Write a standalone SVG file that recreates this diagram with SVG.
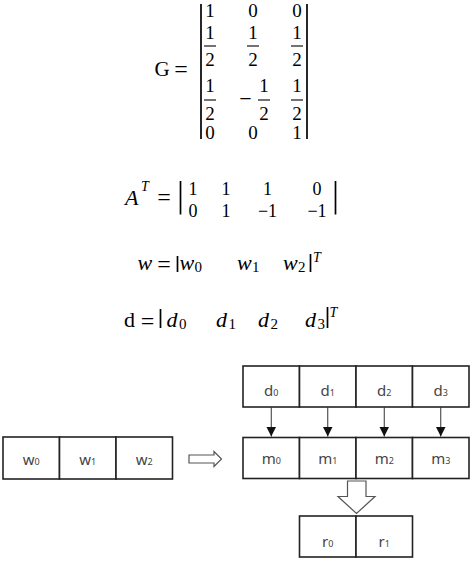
<svg xmlns="http://www.w3.org/2000/svg" width="474" height="561" viewBox="0 0 474 561">
<defs>
<style>
.m{font-family:"Liberation Serif","Times New Roman",serif;fill:#000;}
.d{font-size:19px;text-anchor:middle;}
.i{font-style:italic;}
.eq{font-size:24px;text-anchor:middle;}
.bar{stroke:#000;stroke-width:1.7;fill:none;}
.fb{stroke:#000;stroke-width:1.1;}
.cell{fill:#fff;stroke:#222;stroke-width:1.6;}
.lbl{font-family:"Noto Sans","DejaVu Sans",sans-serif;font-size:15px;fill:#444;text-anchor:middle;}
.sub{font-size:9px;}
.hollow{fill:#fff;stroke:#555;stroke-width:1.2;stroke-linejoin:miter;}
.conn{stroke:#333;stroke-width:1;fill:none;}
</style>
<marker id="ah" markerWidth="10" markerHeight="10" refX="10" refY="5" orient="auto" markerUnits="userSpaceOnUse">
<path d="M0,0 L10,5 L0,10 Z" fill="#111"/>
</marker>
</defs>
<rect width="474" height="561" fill="#fff"/>

<g id="eq-G" class="m">
<text x="154.5" y="76" font-size="21">G</text>
<text class="eq" x="181" y="77">=</text>
<line class="bar" x1="201" y1="4" x2="201" y2="139"/>
<line class="bar" x1="307" y1="4" x2="307" y2="139"/>
<text class="d" x="210" y="16.5">1</text>
<text class="d" x="253" y="16.5">0</text>
<text class="d" x="297" y="16.5">0</text>
<text class="d" x="210" y="38.5">1</text>
<text class="d" x="253" y="38.5">1</text>
<text class="d" x="297" y="38.5">1</text>
<line class="fb" x1="204" y1="46" x2="216" y2="46"/>
<line class="fb" x1="247" y1="46" x2="259" y2="46"/>
<line class="fb" x1="291" y1="46" x2="303" y2="46"/>
<text class="d" x="210" y="65.5">2</text>
<text class="d" x="253" y="65.5">2</text>
<text class="d" x="297" y="65.5">2</text>
<text class="d" x="210" y="92">1</text>
<text class="d" x="264" y="92">1</text>
<text class="d" x="297" y="92">1</text>
<text x="245.5" y="106" font-size="22" text-anchor="middle">−</text>
<line class="fb" x1="204" y1="100" x2="216" y2="100"/>
<line class="fb" x1="258" y1="100" x2="270" y2="100"/>
<line class="fb" x1="291" y1="100" x2="303" y2="100"/>
<text class="d" x="210" y="119.5">2</text>
<text class="d" x="264" y="119.5">2</text>
<text class="d" x="297" y="119.5">2</text>
<text class="d" x="210" y="138.5">0</text>
<text class="d" x="253" y="138.5">0</text>
<text class="d" x="297" y="138.5">1</text>
</g>

<g id="eq-AT" class="m">
<text class="i" x="125" y="204.5" font-size="22">A</text>
<text class="i" x="141" y="191" font-size="14">T</text>
<text class="eq" x="164" y="205">=</text>
<line class="bar" x1="180.5" y1="181" x2="180.5" y2="214.5"/>
<line class="bar" x1="335.5" y1="181" x2="335.5" y2="214.5"/>
<g font-size="18" text-anchor="middle">
<text x="193" y="194.5">1</text>
<text x="226" y="194.5">1</text>
<text x="267.5" y="194.5">1</text>
<text x="317" y="194.5">0</text>
<text x="193" y="216.5">0</text>
<text x="226" y="216.5">1</text>
<text x="267.5" y="216.5">−1</text>
<text x="317" y="216.5">−1</text>
</g>
</g>

<g id="eq-w" class="m">
<text class="i" x="137.5" y="270" font-size="22">w</text>
<text class="eq" x="164" y="271.5">=</text>
<line class="bar" x1="177.5" y1="256" x2="177.5" y2="272"/>
<text class="i" x="179.5" y="270" font-size="22">w</text>
<text x="194.5" y="272" font-size="15">0</text>
<text class="i" x="237" y="270" font-size="22">w</text>
<text x="252" y="272" font-size="15">1</text>
<text class="i" x="283" y="270" font-size="22">w</text>
<text x="298" y="272" font-size="15">2</text>
<line class="bar" x1="310.5" y1="254" x2="310.5" y2="272"/>
<text class="i" x="313" y="262" font-size="14">T</text>
</g>

<g id="eq-d" class="m">
<text x="124" y="326.5" font-size="22">d</text>
<text class="eq" x="147.5" y="328.5">=</text>
<line class="bar" x1="160.5" y1="309" x2="160.5" y2="328"/>
<text class="i" x="166.5" y="326.5" font-size="22">d</text>
<text x="179" y="328.5" font-size="15">0</text>
<text class="i" x="216" y="326.5" font-size="22">d</text>
<text x="228.5" y="328.5" font-size="15">1</text>
<text class="i" x="258" y="326.5" font-size="22">d</text>
<text x="270.5" y="328.5" font-size="15">2</text>
<text class="i" x="305" y="326.5" font-size="22">d</text>
<text x="317.5" y="328.5" font-size="15">3</text>
<line class="bar" x1="327.5" y1="307" x2="327.5" y2="328"/>
<text class="i" x="329.5" y="317" font-size="14">T</text>
</g>

<g id="node-w">
<rect class="cell" x="3" y="437" width="56.5" height="42"/>
<rect class="cell" x="59.5" y="437" width="56.5" height="42"/>
<rect class="cell" x="116" y="437" width="56.5" height="42"/>
<text class="lbl" x="31.25" y="464.5">w<tspan class="sub">0</tspan></text>
<text class="lbl" x="87.75" y="464.5">w<tspan class="sub">1</tspan></text>
<text class="lbl" x="144.25" y="464.5">w<tspan class="sub">2</tspan></text>
</g>

<g id="node-d">
<rect class="cell" x="243" y="366" width="56.5" height="41"/>
<rect class="cell" x="299.5" y="366" width="56.5" height="41"/>
<rect class="cell" x="356" y="366" width="56.5" height="41"/>
<rect class="cell" x="412.5" y="366" width="56.5" height="41"/>
<text class="lbl" x="271.25" y="395.5">d<tspan class="sub">0</tspan></text>
<text class="lbl" x="327.75" y="395.5">d<tspan class="sub">1</tspan></text>
<text class="lbl" x="384.25" y="395.5">d<tspan class="sub">2</tspan></text>
<text class="lbl" x="440.75" y="395.5">d<tspan class="sub">3</tspan></text>
</g>

<g id="node-m">
<rect class="cell" x="243" y="437.5" width="56.5" height="41"/>
<rect class="cell" x="299.5" y="437.5" width="56.5" height="41"/>
<rect class="cell" x="356" y="437.5" width="56.5" height="41"/>
<rect class="cell" x="412.5" y="437.5" width="56.5" height="41"/>
<text class="lbl" x="271.25" y="464">m<tspan class="sub">0</tspan></text>
<text class="lbl" x="327.75" y="464">m<tspan class="sub">1</tspan></text>
<text class="lbl" x="384.25" y="464">m<tspan class="sub">2</tspan></text>
<text class="lbl" x="440.75" y="464">m<tspan class="sub">3</tspan></text>
</g>

<g id="node-r">
<rect class="cell" x="299.5" y="516" width="56.5" height="41"/>
<rect class="cell" x="356" y="516" width="56.5" height="41"/>
<text class="lbl" x="327.75" y="547">r<tspan class="sub">0</tspan></text>
<text class="lbl" x="384.25" y="547">r<tspan class="sub">1</tspan></text>
</g>

<g id="connectors">
<polygon class="hollow" points="189,455 214,455 214,451.5 221.5,459 214,466.5 214,463 189,463"/>
<line class="conn" x1="271.25" y1="407" x2="271.25" y2="436.5" marker-end="url(#ah)"/>
<line class="conn" x1="327.75" y1="407" x2="327.75" y2="436.5" marker-end="url(#ah)"/>
<line class="conn" x1="384.25" y1="407" x2="384.25" y2="436.5" marker-end="url(#ah)"/>
<line class="conn" x1="440.75" y1="407" x2="440.75" y2="436.5" marker-end="url(#ah)"/>
<polygon class="hollow" points="347.5,481 366,481 366,496.5 375,496.5 356.5,513.5 338,496.5 347.5,496.5"/>
</g>
</svg>
